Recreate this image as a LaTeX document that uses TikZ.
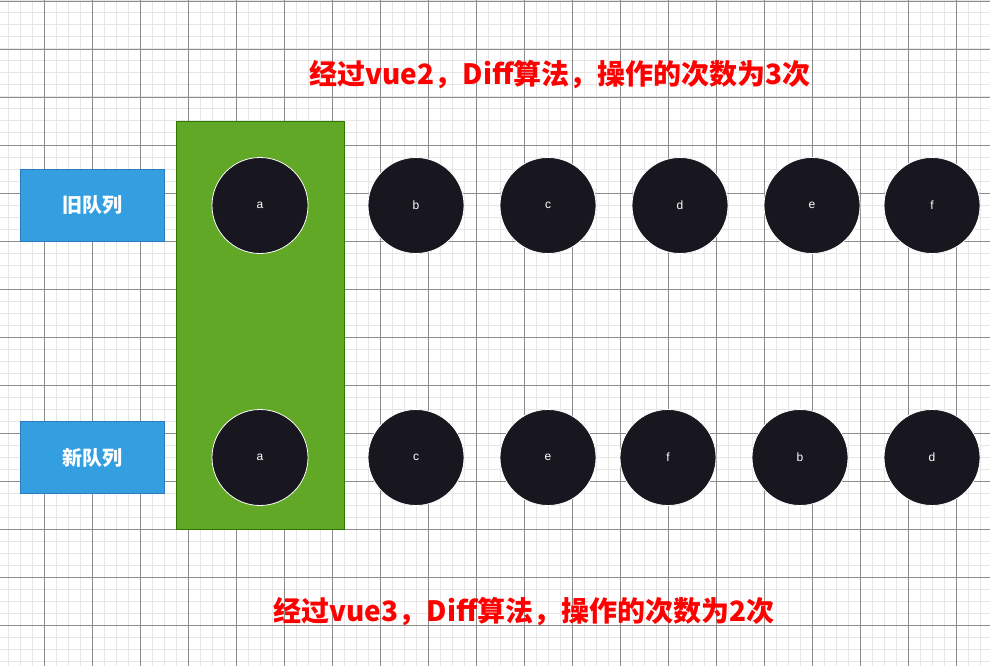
\documentclass[tikz,border=0pt]{standalone}
\usepackage{fontspec}
\setmainfont{Liberation Sans}
\newfontfamily\cjk{Noto Sans CJK SC}
\definecolor{minorgrid}{HTML}{E6E6E6}
\definecolor{majorgrid}{HTML}{8C8C8C}
\definecolor{greenfill}{HTML}{60A826}
\definecolor{greenline}{HTML}{2D7600}
\definecolor{bluefill}{HTML}{349FE0}
\definecolor{blueline}{HTML}{2A7BBF}
\definecolor{dot}{HTML}{18161F}
\definecolor{redtext}{HTML}{FF0000}
\begin{document}
\begin{tikzpicture}[x=1pt,y=-1pt,
  queuebox/.style={draw=blueline,fill=bluefill,line width=0.8pt,minimum width=144pt,minimum height=72pt,inner sep=0pt,text=white,font=\cjk\bfseries\fontsize{20}{24}\selectfont},
  ball/.style={circle,draw=white,fill=dot,line width=0.8pt,minimum size=96pt,inner sep=0pt,text=white,font=\fontsize{12}{14}\selectfont},
  title/.style={text=redtext,font=\cjk\bfseries\fontsize{28}{32}\selectfont,inner sep=0pt}]
\useasboundingbox (0,0) rectangle (990,666);
\fill[white] (0,0) rectangle (990,666);
% grid
\foreach \x in {8,20,...,990} \draw[minorgrid,line width=1pt] (\x,0) -- (\x,666);
\foreach \y in {1,13,...,666} \draw[minorgrid,line width=1pt] (0,\y) -- (990,\y);
\foreach \x in {44,92,...,990} \draw[majorgrid,line width=0.9pt] (\x,0) -- (\x,666);
\foreach \y in {1,49,...,666} \draw[majorgrid,line width=0.9pt] (0,\y) -- (990,\y);
% green block
\node[draw=greenline,fill=greenfill,line width=0.8pt,minimum width=168pt,minimum height=408pt,inner sep=0pt] (same) at (260,325) {};
% queues
\node[queuebox] (old) at (92,205.5) {旧队列};
\node[queuebox] (new) at (92,457.5) {新队列};
% old row
\node[ball] (oa) at (260,205.5) {a};
\node[ball] (ob) at (416,205.5) {b};
\node[ball] (oc) at (548,205.5) {c};
\node[ball] (od) at (680,205.5) {d};
\node[ball] (oe) at (812,205.5) {e};
\node[ball] (of) at (932,205.5) {f};
% new row
\node[ball] (na) at (260,457.5) {a};
\node[ball] (nc) at (416,457.5) {c};
\node[ball] (ne) at (548,457.5) {e};
\node[ball] (nf) at (668,457.5) {f};
\node[ball] (nb) at (800,457.5) {b};
\node[ball] (nd) at (932,457.5) {d};
% titles
\node[title] (t2) at (560,75) {经过vue2，Diff算法，操作的次数为3次};
\node[title] (t3) at (524,612) {经过vue3，Diff算法，操作的次数为2次};
\end{tikzpicture}
\end{document}
